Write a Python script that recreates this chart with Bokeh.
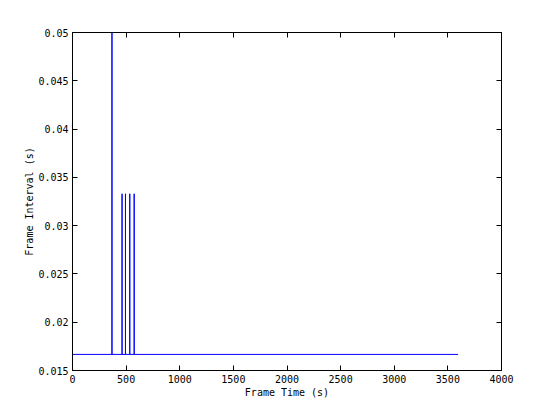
from bokeh.plotting import figure
from bokeh.models import Range1d, FixedTicker, LinearAxis
from bokeh.embed import file_html
from bokeh.resources import INLINE

# data
base_interval = 1.0 / 60.0
start_time = 0.0
end_time = 3595.0
spike_times = [368, 462, 494, 534, 575]
spike_values = [0.1, 0.0333, 0.0333, 0.0333, 0.0333]
x_ticks = [0, 500, 1000, 1500, 2000, 2500, 3000, 3500, 4000]
y_ticks = [0.015, 0.02, 0.025, 0.03, 0.035, 0.04, 0.045, 0.05]
y_tick_labels = ["0.015", "0.02", "0.025", "0.03", "0.035", "0.04", "0.045", "0.05"]

xs = [start_time]
ys = [base_interval]
for t, v in zip(spike_times, spike_values):
    xs += [t, t, t]
    ys += [base_interval, v, base_interval]
xs.append(end_time)
ys.append(base_interval)

FONT = "DejaVu Sans Mono"

p = figure(frame_width=429, frame_height=338, output_backend="svg", toolbar_location=None,
           x_range=Range1d(0, 4000), y_range=Range1d(0.015, 0.05),
           min_border_left=72, min_border_top=32, min_border_right=44, min_border_bottom=36,
           x_axis_label="Frame Time (s)", y_axis_label="Frame Interval (s)")
p.line(xs, ys, line_color="#0000ff", line_width=1)

p.xgrid.visible = False
p.ygrid.visible = False
p.outline_line_color = "black"
p.outline_line_alpha = 1.0
p.background_fill_color = "white"
p.border_fill_color = "white"

for ax in p.xaxis:
    ax.ticker = FixedTicker(ticks=x_ticks)
for ax in p.yaxis:
    ax.ticker = FixedTicker(ticks=y_ticks)
    ax.major_label_overrides = {t: l for t, l in zip(y_ticks, y_tick_labels)}

for ax in list(p.xaxis) + list(p.yaxis):
    ax.major_tick_in = 5
    ax.major_tick_out = 0
    ax.minor_tick_line_color = None
    ax.axis_line_color = "black"
    ax.major_tick_line_color = "black"
    ax.major_label_text_font = FONT
    ax.major_label_text_font_size = "10px"
    ax.major_label_text_color = "black"
    ax.axis_label_text_font = FONT
    ax.axis_label_text_font_size = "10px"
    ax.axis_label_text_font_style = "normal"
    ax.axis_label_text_color = "black"
    ax.major_label_standoff = 4
for ax in p.xaxis:
    ax.axis_label_standoff = 1
for ax in p.yaxis:
    ax.axis_label_standoff = 0

# box ticks on top and right
top = LinearAxis(ticker=FixedTicker(ticks=x_ticks),
                 major_label_overrides={t: "" for t in x_ticks},
                 major_tick_in=5, major_tick_out=0, minor_tick_line_color=None)
right = LinearAxis(ticker=FixedTicker(ticks=y_ticks),
                   major_label_overrides={t: "" for t in y_ticks},
                   major_tick_in=5, major_tick_out=0, minor_tick_line_color=None)
top.major_label_standoff = 0
right.major_label_standoff = 0
p.add_layout(top, "above")
p.add_layout(right, "right")

open("out.html", "w").write(file_html(p, INLINE))
